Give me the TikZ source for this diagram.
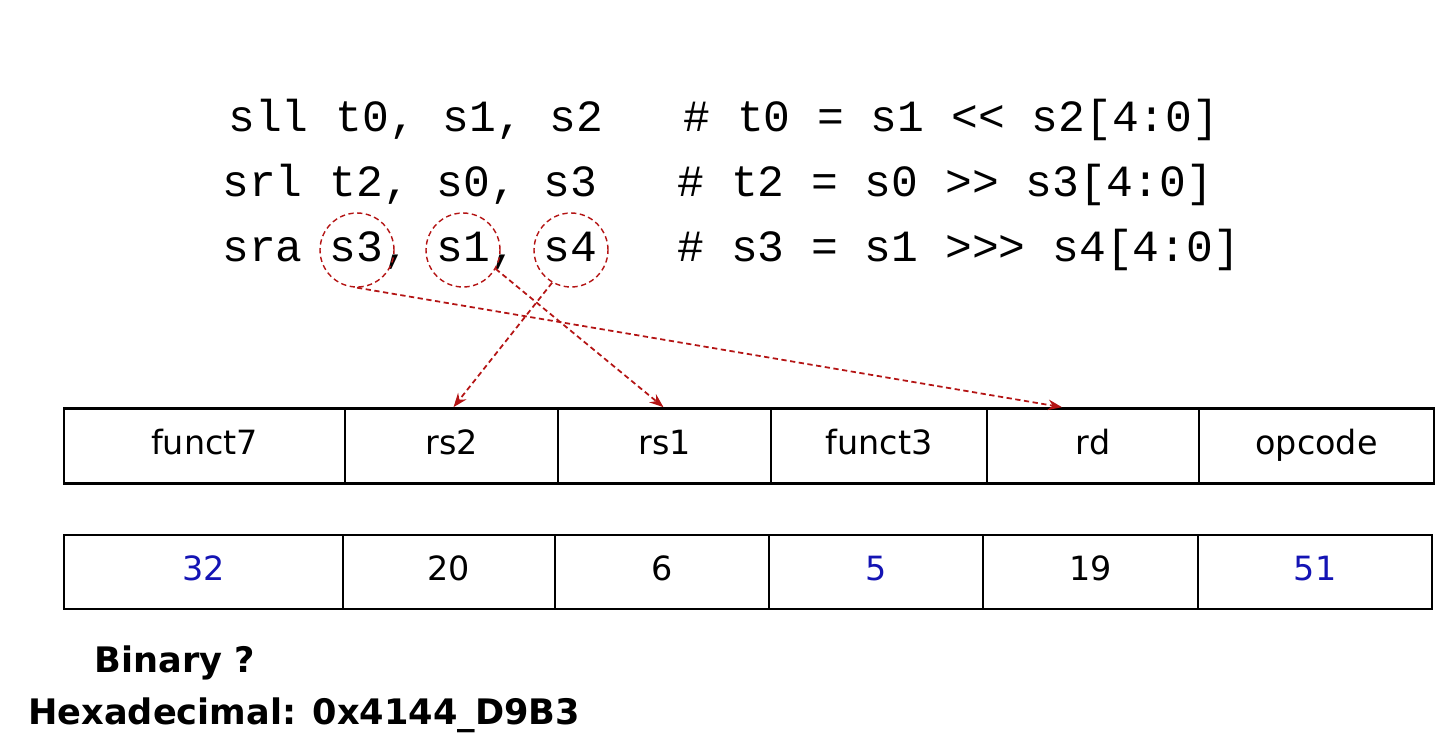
\documentclass[tikz,border=0pt]{standalone}
\usepackage{fontspec}
\setmainfont{DejaVu Sans}
\setmonofont{Liberation Mono}
\usetikzlibrary{arrows.meta}
\definecolor{dred}{RGB}{180,20,20}
\definecolor{nblue}{RGB}{20,20,180}
\begin{document}
\begin{tikzpicture}[x=0.02cm,y=-0.02cm,
  code/.style={anchor=west,inner sep=0,font=\ttfamily\fontsize{25.4}{30}\selectfont},
  field/.style={draw,line width=1.5pt,minimum height=1.5cm,inner sep=0,text height=14pt,text depth=4pt,font=\fontsize{19}{23}\selectfont},
  val/.style={draw,line width=1.5pt,minimum height=1.48cm,inner sep=0,text height=14pt,text depth=4pt,font=\fontsize{19}{23}\selectfont},
  reg/.style={draw=dred,densely dashed,line width=0.8pt,circle,minimum size=1.48cm},
  link/.style={dred,densely dashed,line width=1pt,-{Stealth[length=8pt,width=6pt]}}]
\useasboundingbox (0,0) rectangle (1440,751);
\node[code] (l1) at (228,120) {sll t0, s1, s2~~~\# t0 = s1 << s2[4:0]};
\node[code] (l2) at (222,185) {srl t2, s0, s3~~~\# t2 = s0 >> s3[4:0]};
\node[code] (l3) at (222,250) {sra s3, s1, s4~~~\# s3 = s1 >>> s4[4:0]};
\node[reg] (c3) at (357,250) {};
\node[reg] (c1) at (463,250) {};
\node[reg] (c4) at (571,250) {};
% fields
\foreach \n/\a/\b/\t in {f7/64/345/funct7,rs2/345/558/rs2,rs1/558/771/rs1,f3/771/987/funct3,rd/987/1199/rd,op/1199/1434/opcode}{
  \node[field,minimum width={(\b-\a)*0.02cm}] (\n) at ({(\a+\b)/2},446) {\t};}
\foreach \n/\a/\b/\t/\c in {v7/64/343/32/nblue,v2/343/555/20/black,v1/555/769/6/black,v3/769/983/5/nblue,vd/983/1198/19/black,vo/1198/1432/51/nblue}{
  \node[val,minimum width={(\b-\a)*0.02cm},text=\c] (\n) at ({(\a+\b)/2},572) {\t};}
\draw[link] (c3.south) -- ([xshift=-0.02cm*(1093-1062)]rd.north);
\draw[link] (c1.-30) -- ([xshift=-0.02cm*(664-663)]rs1.north);
\draw[link] (c4.-120) -- ([xshift=0.02cm*(453-451)]rs2.north);
\node[font=\bfseries\fontsize{20}{24}\selectfont] (bin) at (175,663) {Binary ?};
\node[font=\bfseries\fontsize{20}{24}\selectfont,anchor=west,inner sep=0] (hex) at (28,715) {Hexadecimal: 0x4144\_D9B3};
\end{tikzpicture}
\end{document}
